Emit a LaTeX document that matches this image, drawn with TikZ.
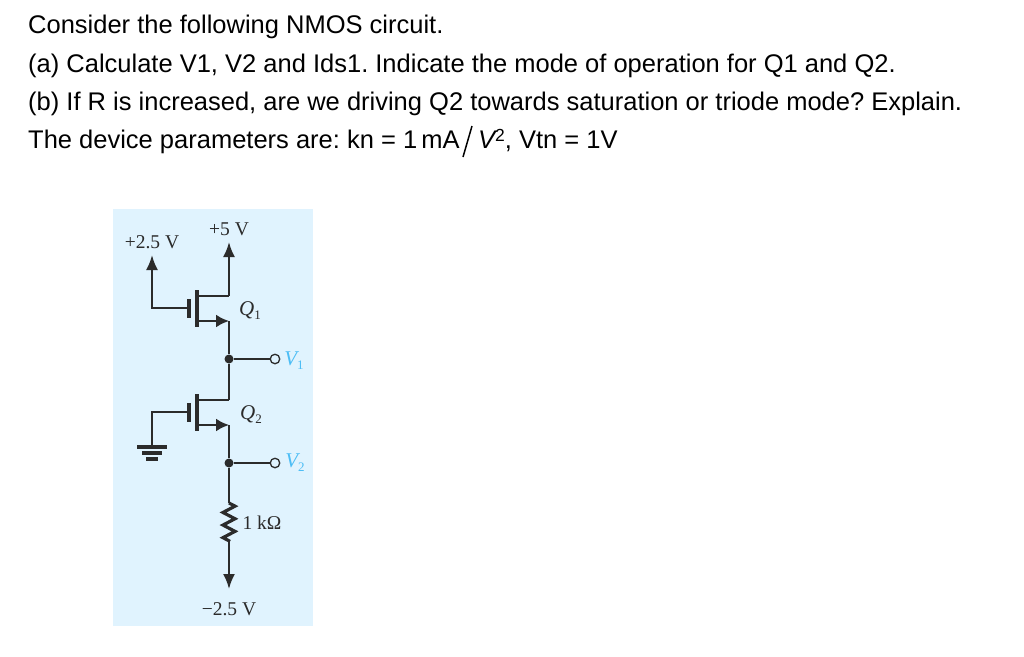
\documentclass[tikz,border=0pt]{standalone}
\usepackage{fontspec}
\setmainfont{Liberation Sans}
\newfontfamily\circfont{Liberation Serif}
\usetikzlibrary{arrows.meta,decorations.pathmorphing}
\definecolor{panelblue}{HTML}{E0F3FE}
\definecolor{wirecol}{HTML}{2B2B2B}
\definecolor{outblue}{HTML}{4CBDF5}
\tikzset{
    qline/.style={anchor=base west,inner sep=0pt,font=\fontsize{25.5}{30}\selectfont\frenchspacing,text=black},
    clabel/.style={inner sep=0pt,font=\circfont\fontsize{19.5}{20}\selectfont,text=wirecol},
    qlabel/.style={inner sep=0pt,font=\circfont\itshape\fontsize{21}{22}\selectfont,text=wirecol},
    vlabel/.style={inner sep=0pt,font=\circfont\itshape\fontsize{21}{22}\selectfont,text=outblue},
    wire/.style={draw=wirecol,line width=2.2pt},
    heavy/.style={draw=wirecol,line width=4pt},
    dot/.style={circle,fill=wirecol,inner sep=0pt,minimum size=9pt},
    term/.style={circle,draw=wirecol,fill=panelblue,line width=1.3pt,inner sep=0pt,minimum size=9.5pt},
}
\newcommand{\lowsub}[1]{\raisebox{-4pt}{\upshape\fontsize{13}{13}\selectfont #1}}
\begin{document}
\begin{tikzpicture}[x=1pt,y=-1pt,>={Latex[length=15pt,width=12pt]}]
\useasboundingbox (0,0) rectangle (1024,656);
\fill[panelblue] (113,209) rectangle (313,626);

% question text
\node[qline] (line1) at (28,33) {Consider the following NMOS circuit.};
\node[qline] (line2) at (28,72) {(a) Calculate V1, V2 and Ids1. Indicate the mode of operation for Q1 and Q2.};
\node[qline] (line3) at (28,110) {(b) If R is increased, are we driving Q2 towards saturation or triode mode? Explain.};
\node[qline] (line4) at (28,148) {The device parameters are: kn = 1\,mA};
\node[qline] (line4b) at (478,148) {\textit{V}\kern-2pt\raisebox{7pt}{\fontsize{17.5}{17.5}\selectfont 2}, Vtn = 1V};
\coordinate (slashtop) at (472,126);
\coordinate (slashbot) at (463,157);
\draw[black,line width=1.5pt] (slashtop)--(slashbot);

% supply points
\coordinate (vdd) at (229,242);
\coordinate (vg1) at (152,255);
\node[clabel] (lvdd) at (229,229) {+5 V};
\node[clabel] (lvg1) at (152,242) {+2.5 V};

% transistors
\foreach \name/\y in {q1/0,q2/104}
{
    \coordinate (\name d) at (229,296+\y);
    \coordinate (\name c) at (197,296+\y);
    \coordinate (\name e) at (197,321+\y);
    \coordinate (\name s) at (229,321+\y);
    \coordinate (\name g) at (189,308+\y);
    \draw[heavy] (197,290+\y)--(197,327+\y);
    \draw[heavy] (189,299+\y)--(189,318+\y);
    \draw[wire] (\name c)--(\name d);
    \draw[wire,{Latex[length=13pt,width=13pt]}-] (\name s)--(\name e);
}
\node[qlabel] (lq1) at (250,311) {Q\lowsub{1}};
\node[qlabel] (lq2) at (251,415) {Q\lowsub{2}};

% gate and drain leads
\draw[wire,->] (q1d)--(vdd);
\draw[wire,->] (q1g)-|(vg1);

% output nodes
\node[dot] (n1) at (229,359) {};
\node[dot] (n2) at (229,463) {};
\node[term] (t1) at (275,359) {};
\node[term] (t2) at (275,463) {};
\node[vlabel] (lv1) at (294,361) {V\lowsub{1}};
\node[vlabel] (lv2) at (295,463) {V\lowsub{2}};
\draw[wire] (q1s)--(n1)--(q2d);
\draw[wire] (n1)--(t1);
\draw[wire] (n2)--(t2);
\draw[wire] (q2s)--(n2);

% ground
\coordinate (gnd) at (152,447);
\draw[wire] (q2g)-|(gnd);
\draw[heavy,line width=3.2pt] (137,447)--(167,447);
\draw[heavy,line width=3.2pt] (142,453)--(162,453);
\draw[heavy,line width=3.2pt] (146,459)--(158,459);

% resistor
\coordinate (rtop) at (229,503);
\coordinate (rbot) at (229,541);
\coordinate (vss) at (229,589);
\draw[wire] (n2)--(rtop);
\draw[draw=wirecol,line width=3.2pt,decorate,decoration={zigzag,amplitude=6pt,segment length=12.6pt}] (rtop)--(rbot);
\draw[wire,->] (rbot)--(vss);
\node[clabel] (lr) at (262,523) {1 kΩ};
\node[clabel] (lvss) at (229,609) {−2.5 V};
\end{tikzpicture}
\end{document}
